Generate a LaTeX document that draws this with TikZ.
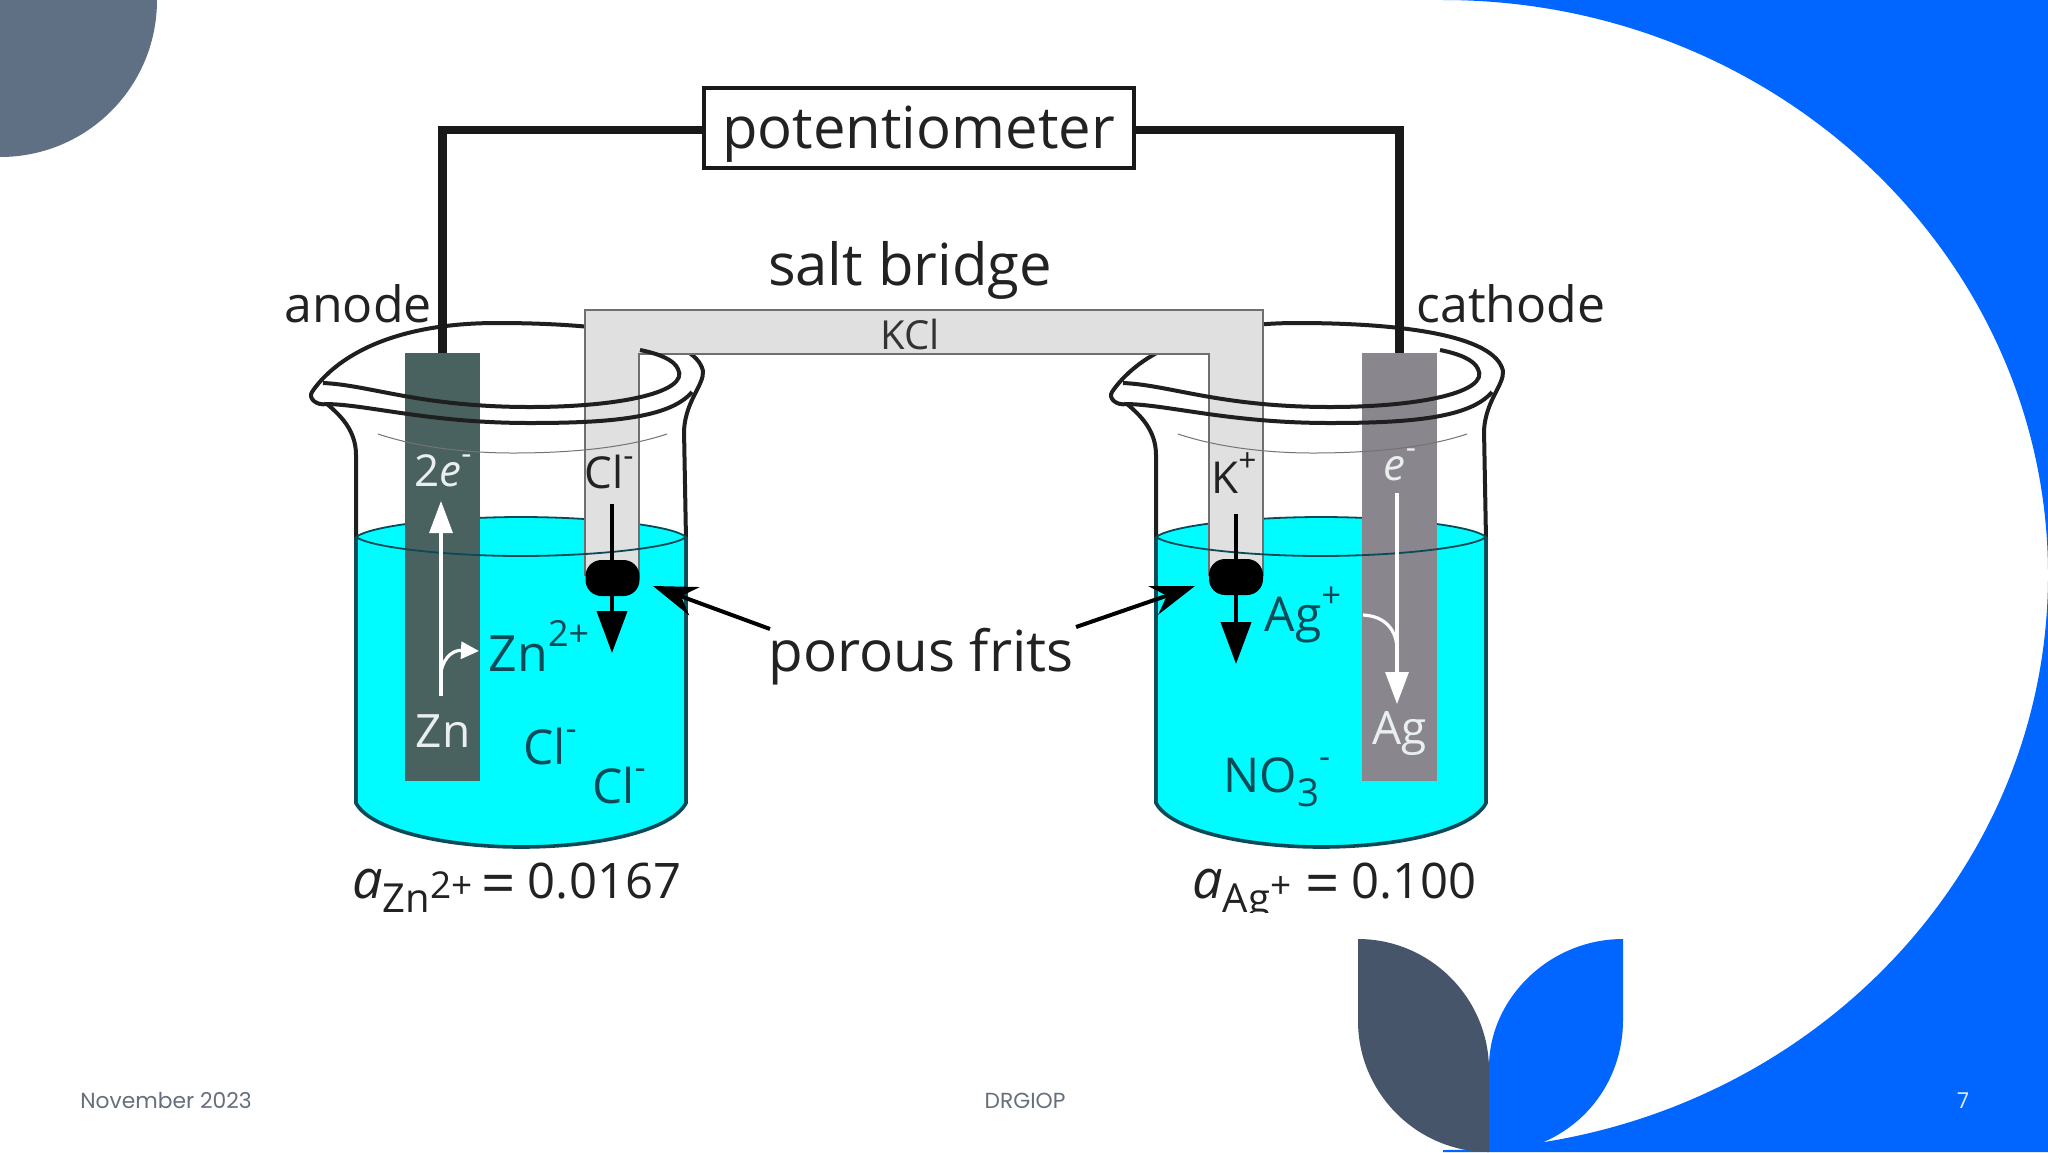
\documentclass[tikz,border=0pt]{standalone}
\usepackage{fontspec}
\setmainfont{Open Sans}
\newfontfamily\footfont{Poppins}
\usetikzlibrary{arrows.meta}
\definecolor{brandblue}{HTML}{0066FF}
\definecolor{leafdark}{HTML}{465569}
\definecolor{cornerdark}{HTML}{5F7085}
\definecolor{water}{HTML}{00FCFF}
\definecolor{waterink}{HTML}{0B4A56}
\definecolor{inkdark}{HTML}{222222}
\definecolor{rodzn}{HTML}{4A625F}
\definecolor{rodag}{HTML}{8A868E}
\definecolor{bridgefill}{HTML}{E0E0E0}
\definecolor{bridgeline}{HTML}{6F6F6F}
\definecolor{rodink}{HTML}{E9EFEE}
\definecolor{footink}{HTML}{666F7C}
\definecolor{pageink}{HTML}{DCEBFF}
\newcommand{\upt}[2][0.5em]{\raisebox{#1}{\scalebox{0.72}{#2}}}
\newcommand{\fs}[1]{\fontsize{#1}{#1}\selectfont}
\tikzset{
  lbl/.style={inner sep=0pt,font=\fontsize{#1}{#1}\selectfont},
  ink/.style={lbl=#1,text=inkdark},
  wink/.style={lbl=#1,text=waterink},
  rink/.style={lbl=#1,text=rodink},
  footer/.style={inner sep=0pt,text=footink,font=\footfont\fontsize{10.9}{13}\selectfont},
  rod/.style={inner sep=0pt,minimum width=37.5pt,minimum height=214pt},
  frit/.style={fill=black,inner sep=0pt,minimum width=27pt,minimum height=18pt,rounded corners=8pt},
  wire/.style={line width=4.2pt,draw=black!90},
  rim/.style={line width=2pt,draw=black!88},
  glassthin/.style={line width=0.5pt,draw=black!55},
  surface/.style={line width=0.9pt,draw=waterink},
  wateredge/.style={line width=1.8pt,draw=waterink},
  blackarrow/.style={line width=2pt,draw=black,-{Triangle[length=21pt,width=15pt]}},
  pointer/.style={line width=2pt,draw=black,-{Stealth[length=22pt,width=15pt]}},
  whitearrow/.style={line width=1.6pt,draw=white,-{Triangle[length=16pt,width=11.5pt]}},
  whitebranch/.style={line width=1.6pt,draw=white,-{Triangle[length=9pt,width=8.5pt]}},
  whitecurve/.style={line width=1.6pt,draw=white},
}
\newcommand{\beakerback}{%
  \draw[rim] (327,404) .. controls (316,406) and (308,398) .. (312,392)
    .. controls (330,365) and (380,323) .. (497,323)
    .. controls (600,323) and (695,335) .. (703,371)
    .. controls (704,385) and (686,400) .. (684,430) -- (686,540);
  \draw[rim] (327,404) .. controls (340,415) and (356,430) .. (356,455) -- (356,540);
  \fill[water] (356,537) .. controls (372,525) and (450,517) .. (521,517)
    .. controls (592,517) and (672,525) .. (686,537) -- (686,803)
    .. controls (672,830) and (600,847) .. (521,847)
    .. controls (445,847) and (370,830) .. (356,803) -- cycle;
  \draw[surface] (356,537) .. controls (372,525) and (450,517) .. (521,517)
    .. controls (592,517) and (672,525) .. (686,537);
  \draw[wateredge] (356,537) -- (356,803)
    .. controls (370,830) and (445,847) .. (521,847)
    .. controls (600,847) and (672,830) .. (686,803) -- (686,537);
}
\newcommand{\beakerfront}{%
  \draw[rim] (323,383) .. controls (370,385) and (420,407) .. (530,407)
    .. controls (620,407) and (690,392) .. (678,369)
    .. controls (674,360) and (660,354) .. (640,350);
  \draw[rim] (327,404) .. controls (370,405) and (430,423) .. (530,423)
    .. controls (610,423) and (670,418) .. (692,392);
  \draw[glassthin] (378,434) .. controls (420,448) and (470,453) .. (513,453)
    .. controls (570,453) and (625,448) .. (667,434);
  \draw[surface] (356,537) .. controls (372,548) and (450,556) .. (521,556)
    .. controls (592,556) and (672,548) .. (686,537);
}
\begin{document}
\begin{tikzpicture}[x=0.5pt,y=-0.5pt]
\useasboundingbox (0,0) rectangle (2048,1152);
\fill[white] (0,0) rectangle (2048,1152);
% slide decoration
\fill[cornerdark] (0,0) -- (157,0) .. controls (157,87) and (87,157) .. (0,157) -- cycle;
\fill[brandblue] (1443,0) .. controls (1777,0) and (2048,257) .. (2048,575)
  .. controls (2048,893) and (1777,1150) .. (1443,1150)
  -- (1443,1152) -- (2048,1152) -- (2048,0) -- cycle;
\fill[leafdark] (1358,939) .. controls (1430,939) and (1489,998) .. (1489,1070)
  -- (1489,1152) .. controls (1417,1152) and (1358,1093) .. (1358,1021) -- cycle;
\fill[brandblue] (1623,939) .. controls (1549,939) and (1489,999) .. (1489,1067)
  -- (1489,1152) -- (1530,1147) .. controls (1585,1130) and (1623,1080) .. (1623,1020) -- cycle;
% beakers, back parts
\beakerback
\begin{scope}[shift={(800,0)}]\beakerback\end{scope}
% electrodes
\node[rod,fill=rodzn] (rodL) at (442.5,567) {};
\node[rod,fill=rodag] (rodR) at (1399.5,567) {};
% salt bridge
\draw[fill=bridgefill,draw=bridgeline,line width=1pt]
  (585,575) -- (585,310) -- (1263,310) -- (1263,575) -- (1209,575)
  -- (1209,354) -- (639,354) -- (639,575) -- cycle;
\node[frit] (fritL) at (612.5,578) {};
\node[frit] (fritR) at (1236,577) {};
% beakers, front parts
\beakerfront
\begin{scope}[shift={(800,0)}]\beakerfront\end{scope}
% potentiometer and wires
\node[draw=black!90,line width=2pt,fill=white,minimum width=215pt,minimum height=40pt,inner sep=0pt,text height=24pt,text depth=4pt,ink=29] (pot) at (918.5,128) {potentiometer};
\draw[wire] ([yshift=-1pt]pot.west) -| (rodL.north);
\draw[wire] ([yshift=-1pt]pot.east) -| (rodR.north);
% ion flow arrows
\coordinate (clTop) at (612,504);
\coordinate (clTip) at (612,653);
\coordinate (kTop) at (1236,514);
\coordinate (kTip) at (1236,664);
\draw[blackarrow] (clTop) -- (clTip);
\draw[blackarrow] (kTop) -- (kTip);
\coordinate (znLow) at (441,696);
\coordinate (znUp) at (441,501);
\coordinate (znBr) at (441,672);
\coordinate (znOut) at (479,651);
\draw[whitearrow] (znLow) -- (znUp);
\draw[whitebranch] (znBr) .. controls (444,655) and (455,650) .. (znOut);
\coordinate (agTop) at (1397,493);
\coordinate (agTip) at (1397,704);
\coordinate (agIn) at (1363,615);
\coordinate (agJoin) at (1397,650);
\draw[whitearrow] (agTop) -- (agTip);
\draw[whitecurve] (agIn) .. controls (1385,616) and (1397,630) .. (agJoin);
% texts
\node[ink=29] (salt) at (910,270) {salt bridge};
\node[ink=20,text=black!80] (kcl) at (910,334) {KCl};
\node[ink=25] (anode) at (358,304) {anode};
\node[ink=25] (cathode) at (1511,304) {cathode};
\node[rink=22] (twoe) at (443,471) {2{\itshape e}\upt{-}};
\node[ink=22] (clTube) at (609,472) {Cl\upt{-}};
\node[ink=22] (kTube) at (1234,473) {K\upt{+}};
\node[rink=22] (eR) at (1400,465) {{\itshape e}\upt{-}};
\node[wink=25] (znion) at (539,646) {Zn\upt{2+}};
\node[rink=23] (zn) at (443,731) {Zn};
\node[wink=24] (cl1) at (550,746) {Cl\upt{-}};
\node[wink=24] (cl2) at (619,785) {Cl\upt{-}};
\node[ink=28.3] (frits) at (921,657) {porous frits};
\node[wink=24] (agion) at (1303,615) {Ag\upt{+}};
\node[rink=23] (ag) at (1400,734) {Ag};
\node[wink=24] (no3) at (1277,782) {NO\raisebox{-.3em}{\scalebox{.8}{3}}\upt{-}};
% pointers to the frits
\coordinate (ptrLs) at (770,629);
\coordinate (ptrLt) at (653,586);
\coordinate (ptrRs) at (1076,627);
\coordinate (ptrRt) at (1195,586);
\draw[pointer] (ptrLs) -- (ptrLt);
\draw[pointer] (ptrRs) -- (ptrRt);
% activities, cut off at the bottom of the source figure
\begin{scope}
\clip (300,840) rectangle (1600,912);
\node[text=inkdark,inner sep=0pt,anchor=base west] (actZn) at (352,898)
  {\fs{27}{\itshape a}\raisebox{-7pt}{\fs{20}Zn}\fs{18.5}2+\hspace{4.5pt}\raisebox{-3pt}{\fs{30}=}\hspace{6pt}\fs{24.5}0.0167};
\node[text=inkdark,inner sep=0pt,anchor=base west] (actAg) at (1192,898)
  {\fs{27}{\itshape a}\raisebox{-7pt}{\fs{20}Ag}\fs{18.5}+\hspace{7pt}\raisebox{-3pt}{\fs{30}=}\hspace{6pt}\fs{24.5}0.100};
\end{scope}
% footer
\node[footer,anchor=west] (date) at (80,1101) {November 2023};
\node[footer] (org) at (1025,1101) {DRGIOP};
\node[footer,text=pageink] (page) at (1963,1101) {7};
\end{tikzpicture}
\end{document}
